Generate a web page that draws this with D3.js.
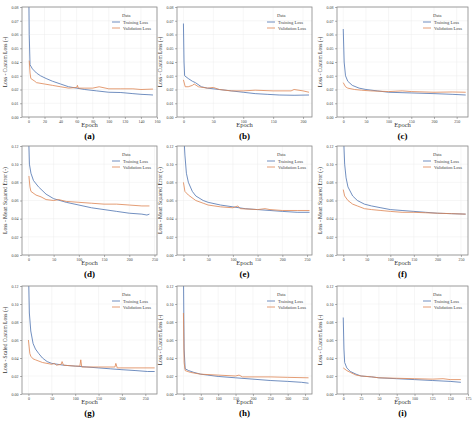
<!DOCTYPE html>
<html>
<head>
<meta charset="utf-8">
<script src="https://cdn.jsdelivr.net/npm/d3@7"></script>
<style>
  body { margin: 0; background: #fff; }
  text { font-family: "Liberation Serif", serif; }
</style>
</head>
<body>
<div id="chart"></div>
<script>
// panel letters, y labels, axis ranges
var panelIds = ["a", "b", "c", "d", "e", "f", "g", "h", "i"]
var yLabels = [
  "Loss - Custom Loss (-)", "Loss - Custom Loss (-)", "Loss - Custom Loss (-)",
  "Loss - Mean Squared Error (-)", "Loss - Mean Squared Error (-)", "Loss - Mean Squared Error (-)",
  "Loss - Scaled Custom Loss (-)", "Loss - Custom Loss (-)", "Loss - Custom Loss (-)"
]
var xMax = [160, 215, 275, 255, 260, 265, 275, 370, 175]
var xTicks = [
  [0, 20, 40, 60, 80, 100, 120, 140, 160],
  [0, 50, 100, 150, 200],
  [0, 50, 100, 150, 200, 250],
  [0, 50, 100, 150, 200, 250],
  [0, 50, 100, 150, 200, 250],
  [0, 50, 100, 150, 200, 250],
  [0, 50, 100, 150, 200, 250],
  [0, 50, 100, 150, 200, 250, 300, 350],
  [0, 25, 50, 75, 100, 125, 150, 175]
]
var yMax = [0.08, 0.08, 0.08, 0.12, 0.12, 0.12, 0.12, 0.12, 0.12]

// training loss per panel: [epoch, loss]
var trainLoss = [
  [[0,0.12],[1,0.06],[2,0.038],[5,0.035],[10,0.032],[15,0.03],[22,0.028],[30,0.026],[40,0.024],[50,0.022],[60,0.021],[70,0.02],[85,0.019],[100,0.018],[115,0.0178],[130,0.017],[140,0.0165],[150,0.0162],[155,0.016]],
  [[0,0.068],[1,0.04],[2,0.03],[8,0.028],[15,0.026],[20,0.025],[30,0.022],[40,0.021],[60,0.02],[80,0.019],[100,0.018],[120,0.017],[140,0.0165],[160,0.016],[185,0.0158],[210,0.016]],
  [[0,0.064],[2,0.04],[5,0.03],[10,0.026],[20,0.023],[35,0.021],[50,0.02],[75,0.019],[100,0.018],[150,0.0175],[200,0.017],[240,0.0165],[270,0.016]],
  [[0,0.14],[2,0.1],[5,0.09],[10,0.082],[20,0.075],[35,0.067],[50,0.062],[75,0.058],[100,0.055],[125,0.052],[150,0.05],[175,0.048],[200,0.046],[225,0.045],[235,0.044],[240,0.045]],
  [[0,0.14],[3,0.11],[6,0.09],[10,0.08],[18,0.07],[25,0.065],[40,0.06],[50,0.058],[75,0.055],[100,0.053],[125,0.051],[150,0.05],[175,0.049],[200,0.048],[230,0.047],[255,0.047]],
  [[0,0.14],[3,0.1],[6,0.085],[10,0.075],[20,0.065],[30,0.06],[45,0.056],[60,0.054],[80,0.052],[100,0.05],[125,0.049],[150,0.048],[175,0.047],[200,0.046],[230,0.0455],[260,0.045]],
  [[0,0.14],[2,0.09],[5,0.07],[10,0.056],[15,0.05],[22,0.045],[30,0.04],[40,0.036],[50,0.034],[75,0.032],[100,0.031],[125,0.03],[150,0.029],[175,0.028],[200,0.027],[230,0.026],[255,0.025],[270,0.025]],
  [[0,0.14],[2,0.05],[5,0.028],[15,0.026],[30,0.024],[50,0.022],[70,0.021],[100,0.0195],[150,0.018],[200,0.0165],[250,0.015],[300,0.014],[340,0.013],[360,0.012]],
  [[0,0.085],[1,0.05],[2,0.035],[5,0.029],[10,0.025],[18,0.022],[25,0.02],[40,0.019],[50,0.018],[75,0.017],[100,0.016],[125,0.015],[150,0.014],[165,0.013]]
]
// validation loss per panel: [epoch, loss]
var valLoss = [
  [[1,0.041],[2,0.032],[3,0.028],[8,0.026],[10,0.025],[20,0.024],[30,0.023],[40,0.022],[50,0.021],[60,0.0215],[61,0.023],[62,0.021],[80,0.021],[88,0.022],[100,0.0205],[115,0.0205],[130,0.0205],[140,0.02],[155,0.0203]],
  [[0,0.027],[3,0.022],[8,0.022],[15,0.023],[18,0.024],[25,0.022],[40,0.021],[50,0.0215],[60,0.02],[80,0.019],[100,0.019],[120,0.0195],[150,0.019],[180,0.019],[185,0.02],[200,0.019],[210,0.018]],
  [[0,0.025],[5,0.022],[10,0.021],[25,0.02],[40,0.0195],[60,0.019],[100,0.0185],[130,0.019],[150,0.0185],[200,0.018],[240,0.0182],[270,0.018]],
  [[1,0.087],[3,0.075],[5,0.07],[15,0.066],[25,0.064],[35,0.061],[50,0.06],[60,0.061],[75,0.059],[100,0.058],[125,0.057],[150,0.056],[175,0.056],[200,0.055],[225,0.054],[240,0.054]],
  [[0,0.08],[3,0.07],[10,0.066],[25,0.06],[40,0.057],[50,0.055],[75,0.053],[100,0.052],[110,0.054],[115,0.051],[150,0.05],[165,0.051],[175,0.05],[200,0.049],[230,0.049],[255,0.049]],
  [[0,0.072],[3,0.065],[10,0.06],[20,0.056],[30,0.054],[45,0.051],[60,0.05],[80,0.049],[100,0.048],[125,0.047],[150,0.047],[175,0.0465],[200,0.046],[230,0.0455],[260,0.045]],
  [[0,0.06],[3,0.045],[5,0.042],[10,0.039],[15,0.038],[30,0.035],[50,0.033],[55,0.034],[60,0.032],[70,0.033],[72,0.036],[75,0.032],[100,0.031],[110,0.031],[112,0.038],[114,0.03],[150,0.03],[185,0.03],[187,0.034],[190,0.029],[230,0.029],[270,0.029]],
  [[0,0.09],[2,0.035],[5,0.026],[20,0.024],[50,0.022],[100,0.021],[150,0.02],[160,0.021],[170,0.019],[200,0.019],[250,0.019],[300,0.0185],[360,0.018]],
  [[0,0.029],[5,0.026],[10,0.024],[18,0.021],[25,0.02],[40,0.019],[50,0.018],[75,0.0175],[100,0.017],[125,0.0165],[140,0.017],[150,0.016],[165,0.016]]
]

var colTrain = "#4c72b0", colVal = "#dd8452"
var colX = [22, 177, 337], colW = [135, 135, 131]
var rowY = [7, 146, 286], rowH = [110, 109, 108]

var svg = d3.select("#chart").append("svg")
  .attr("width", 474).attr("height", 425)

panelIds.forEach(function (id, k) {
  var c = k % 3, r = Math.floor(k / 3)
  var w = colW[c], h = rowH[r]
  var g = svg.append("g").attr("transform", "translate(" + colX[c] + "," + rowY[r] + ")")
  var x = d3.scaleLinear().domain([-8 * xMax[k] / 160, xMax[k]]).range([0, w])
  var y = d3.scaleLinear().domain([0, yMax[k]]).range([h, 0])
  var yT = d3.range(0, yMax[k] + 1e-9, yMax[k] > 0.1 ? 0.02 : 0.01)

  // grid
  g.selectAll(".gx").data(xTicks[k]).enter().append("line")
    .attr("x1", d => x(d)).attr("x2", d => x(d)).attr("y1", 0).attr("y2", h)
    .attr("stroke", "#ececec").attr("stroke-width", 0.5)
  g.selectAll(".gy").data(yT).enter().append("line")
    .attr("y1", d => y(d)).attr("y2", d => y(d)).attr("x1", 0).attr("x2", w)
    .attr("stroke", "#ececec").attr("stroke-width", 0.5)

  var clipId = "clip" + id
  g.append("clipPath").attr("id", clipId).append("rect").attr("width", w).attr("height", h)
  var line = d3.line().x(d => x(d[0])).y(d => y(d[1]))
  g.append("path").datum(trainLoss[k]).attr("d", line).attr("clip-path", "url(#" + clipId + ")")
    .attr("fill", "none").attr("stroke", colTrain).attr("stroke-width", 0.8)
  g.append("path").datum(valLoss[k]).attr("d", line).attr("clip-path", "url(#" + clipId + ")")
    .attr("fill", "none").attr("stroke", colVal).attr("stroke-width", 0.8)

  g.append("rect").attr("width", w).attr("height", h)
    .attr("fill", "none").attr("stroke", "#888").attr("stroke-width", 0.8)

  // axes
  var ax = g.append("g").attr("transform", "translate(0," + h + ")")
    .call(d3.axisBottom(x).tickValues(xTicks[k]).tickSize(2).tickPadding(1.5))
  var ay = g.append("g")
    .call(d3.axisLeft(y).tickValues(yT).tickSize(2).tickPadding(1.5).tickFormat(d3.format(".2f")))
  ;[ax, ay].forEach(function (a) {
    a.select(".domain").remove()
    a.selectAll("text").attr("font-size", 4).attr("fill", "#444")
    a.selectAll("line").attr("stroke", "#666").attr("stroke-width", 0.5)
  })

  g.append("text").attr("x", w / 2).attr("y", h + 10).attr("text-anchor", "middle")
    .attr("font-size", 6.5).attr("fill", "#333").text("Epoch")
  g.append("text").attr("transform", "translate(-15," + (h / 2) + ") rotate(-90)")
    .attr("text-anchor", "middle").attr("font-size", 5.5).attr("fill", "#333").text(yLabels[k])
  g.append("text").attr("x", w / 2).attr("y", h + 22).attr("text-anchor", "middle")
    .attr("font-size", 9).attr("font-weight", "bold").attr("fill", "#000").text("(" + id + ")")

  // legend
  var lg = g.append("g").attr("transform", "translate(" + (w - 45) + ",10)")
  lg.append("text").attr("x", 10).attr("y", 0).attr("font-size", 4.5).attr("fill", "#444").text("Data")
  ;[["Training Loss", colTrain], ["Validation Loss", colVal]].forEach(function (e, i) {
    lg.append("line").attr("x1", 0).attr("x2", 8).attr("y1", 5 + i * 6).attr("y2", 5 + i * 6)
      .attr("stroke", e[1]).attr("stroke-width", 0.8)
    lg.append("text").attr("x", 11).attr("y", 6.5 + i * 6).attr("font-size", 4.5).attr("fill", "#444").text(e[0])
  })
})
</script>
</body>
</html>
